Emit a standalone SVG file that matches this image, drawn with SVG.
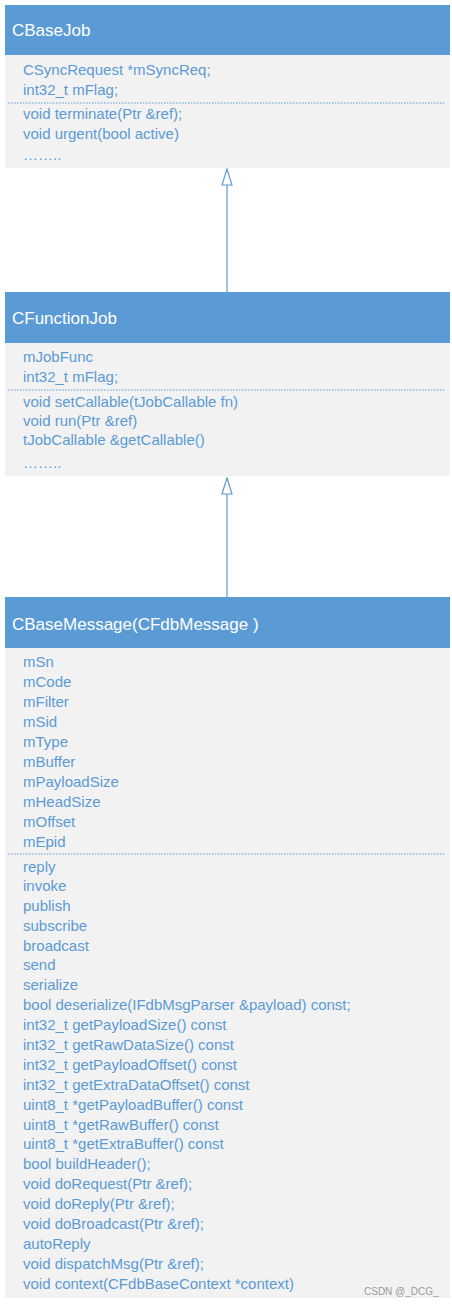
<svg xmlns="http://www.w3.org/2000/svg" width="452" height="1306" viewBox="0 0 452 1306">
<style>
.hdr{fill:#5B9BD5}
.body{fill:#F2F2F2}
.title{font-family:"Liberation Sans",Arial,sans-serif;font-size:17px;fill:#FFFFFF}
.item{font-family:"Liberation Sans",Arial,sans-serif;font-size:15px;fill:#5B9BD5}
.sep{stroke:#5B9BD5;stroke-width:1;stroke-dasharray:1.5 1.5;fill:none}
.conn{stroke:#5B9BD5;stroke-width:1.2;fill:none}
.wm{font-family:"Liberation Sans",Arial,sans-serif;font-size:10px;fill:#9A9A9A}
</style>
<defs>
<marker id="inh" viewBox="0 0 18 12" refX="17" refY="6" markerWidth="18" markerHeight="12" markerUnits="userSpaceOnUse" orient="auto">
<path d="M17,6 L1,1 L1,11 Z" fill="#FFFFFF" stroke="#5B9BD5" stroke-width="1.2"/>
</marker>
</defs>
<rect x="0" y="0" width="452" height="1306" fill="#FFFFFF"/>
<g id="CBaseJob">
<rect class="body" x="5" y="55" width="445" height="113"/>
<rect class="hdr" x="5" y="5" width="445" height="50"/>
<text class="title" x="12" y="36">CBaseJob</text>
<text class="item" x="23" y="75">CSyncRequest *mSyncReq;</text>
<text class="item" x="23" y="95">int32_t mFlag;</text>
<line class="sep" x1="8" y1="103" x2="446" y2="103"/>
<text class="item" x="23" y="119">void terminate(Ptr &amp;ref);</text>
<text class="item" x="23" y="139">void urgent(bool active)</text>
<text class="item" x="23" y="160">……..</text>
</g>
<g id="CFunctionJob">
<rect class="body" x="5" y="343" width="445" height="133"/>
<rect class="hdr" x="5" y="292" width="445" height="51"/>
<text class="title" x="12" y="324">CFunctionJob</text>
<text class="item" x="23" y="362">mJobFunc</text>
<text class="item" x="23" y="382">int32_t mFlag;</text>
<line class="sep" x1="8" y1="390" x2="446" y2="390"/>
<text class="item" x="23" y="407">void setCallable(tJobCallable fn)</text>
<text class="item" x="23" y="426">void run(Ptr &amp;ref)</text>
<text class="item" x="23" y="445">tJobCallable &amp;getCallable()</text>
<text class="item" x="23" y="468">……..</text>
</g>
<g id="CBaseMessage">
<rect class="body" x="5" y="648" width="445" height="650"/>
<rect class="hdr" x="5" y="597" width="445" height="51"/>
<text class="title" x="12" y="630">CBaseMessage(CFdbMessage )</text>
<text class="item" x="23" y="667">mSn</text>
<text class="item" x="23" y="687">mCode</text>
<text class="item" x="23" y="707">mFilter</text>
<text class="item" x="23" y="727">mSid</text>
<text class="item" x="23" y="747">mType</text>
<text class="item" x="23" y="767">mBuffer</text>
<text class="item" x="23" y="787">mPayloadSize</text>
<text class="item" x="23" y="807">mHeadSize</text>
<text class="item" x="23" y="827">mOffset</text>
<text class="item" x="23" y="847">mEpid</text>
<line class="sep" x1="8" y1="854" x2="446" y2="854"/>
<text class="item" x="23" y="872">reply</text>
<text class="item" x="23" y="891">invoke</text>
<text class="item" x="23" y="911">publish</text>
<text class="item" x="23" y="931">subscribe</text>
<text class="item" x="23" y="951">broadcast</text>
<text class="item" x="23" y="970">send</text>
<text class="item" x="23" y="990">serialize</text>
<text class="item" x="23" y="1010">bool deserialize(IFdbMsgParser &amp;payload) const;</text>
<text class="item" x="23" y="1030">int32_t getPayloadSize() const</text>
<text class="item" x="23" y="1050">int32_t getRawDataSize() const</text>
<text class="item" x="23" y="1070">int32_t getPayloadOffset() const</text>
<text class="item" x="23" y="1090">int32_t getExtraDataOffset() const</text>
<text class="item" x="23" y="1110">uint8_t *getPayloadBuffer() const</text>
<text class="item" x="23" y="1130">uint8_t *getRawBuffer() const</text>
<text class="item" x="23" y="1149">uint8_t *getExtraBuffer() const</text>
<text class="item" x="23" y="1169">bool buildHeader();</text>
<text class="item" x="23" y="1189">void doRequest(Ptr &amp;ref);</text>
<text class="item" x="23" y="1209">void doReply(Ptr &amp;ref);</text>
<text class="item" x="23" y="1229">void doBroadcast(Ptr &amp;ref);</text>
<text class="item" x="23" y="1249">autoReply</text>
<text class="item" x="23" y="1269">void dispatchMsg(Ptr &amp;ref);</text>
<text class="item" x="23" y="1289">void context(CFdbBaseContext *context)</text>
</g>
<g id="connectors">
<line class="conn" x1="227" y1="292" x2="227" y2="169" marker-end="url(#inh)"/>
<line class="conn" x1="227" y1="597" x2="227" y2="478" marker-end="url(#inh)"/>
</g>
<text class="wm" x="364" y="1295">CSDN @_DCG_</text>
</svg>
